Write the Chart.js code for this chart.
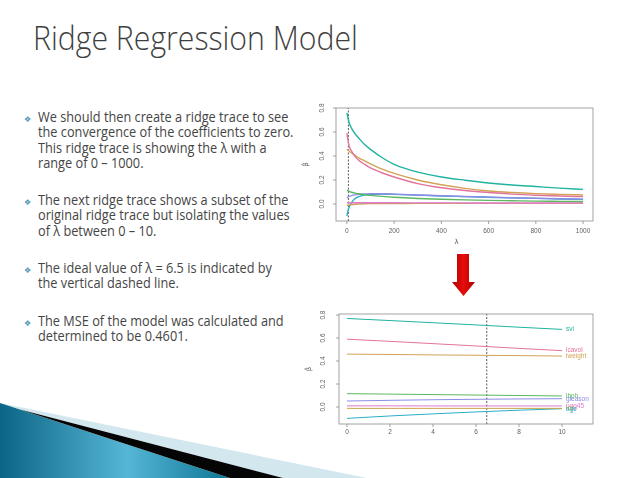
<!DOCTYPE html>
<html>
<head>
<meta charset="utf-8">
<script src="https://cdn.jsdelivr.net/npm/chart.js@4.4.1/dist/chart.umd.min.js"></script>
<style>
  html, body { margin: 0; padding: 0; background: #fff; }
  body { width: 638px; height: 478px; position: relative; overflow: hidden; font-family: "Open Sans", sans-serif; color: #454545; }
  h1 { position: absolute; left: 33px; top: 18px; margin: 0; font-weight: 300; font-size: 33px; line-height: 40px; color: #3f3f3f; white-space: nowrap; transform: scaleX(0.915); transform-origin: 0 0; }
  .bullet { position: absolute; left: 24px; font-size: 14px; line-height: 15.4px; white-space: nowrap; }
  .bullet p { margin: 0 0 0 14px; transform: scaleX(0.91); transform-origin: 0 0; }
  .bullet::before { content: '\2756'; position: absolute; left: 0; top: 3px; font-family: "DejaVu Sans"; font-size: 8px; color: #4f93b8; }
  .chart { position: absolute; }
  svg { position: absolute; left: 0; top: 0; }
</style>
</head>
<body>
<svg width="638" height="478">
  <defs>
    <linearGradient id="swoosh" x1="0" y1="0" x2="1" y2="0">
      <stop offset="0" stop-color="#0b6584"/>
      <stop offset="0.55" stop-color="#56b6d6"/>
      <stop offset="1" stop-color="#0d7696"/>
    </linearGradient>
    <linearGradient id="arrow" x1="0" y1="0" x2="1" y2="0">
      <stop offset="0" stop-color="#b00000"/>
      <stop offset="0.5" stop-color="#e80c0c"/>
      <stop offset="1" stop-color="#b30000"/>
    </linearGradient>
  </defs>
  <path d="M0,403 L367,478 L283,478 L20,409.5 Z" fill="#d3e7ef"/>
  <path d="M0,403 L230,478 L0,478 Z" fill="url(#swoosh)"/>
  <path d="M20,409.5 L283,478 L230,478 Z" fill="#050505"/>
  <path d="M457,254 L469,254 L469,282 L475,282 L463.5,296 L452,282 L457,282 Z" fill="url(#arrow)"/>
</svg>

<h1>Ridge Regression Model</h1>
<div class="bullet" style="top:109px"><p>We should then create a ridge trace to see<br>the convergence of the coefficients to zero.<br>This ridge trace is showing the λ with a<br>range of 0 – 1000.</p></div>
<div class="bullet" style="top:192px"><p>The next ridge trace shows a subset of the<br>original ridge trace but isolating the values<br>of λ between 0 – 10.</p></div>
<div class="bullet" style="top:260px"><p>The ideal value of λ = 6.5 is indicated by<br>the vertical dashed line.</p></div>
<div class="bullet" style="top:313px"><p>The MSE of the model was calculated and<br>determined to be 0.4601.</p></div>

<canvas id="wide" class="chart" width="300" height="160" style="left:300px;top:95px"></canvas>
<canvas id="narrow" class="chart" width="300" height="150" style="left:300px;top:300px"></canvas>

<script>
// ridge trace, lambda 0 - 1000
const lambdaWide = [0, 5, 10, 20, 35, 50, 75, 100, 150, 200, 300, 400, 500, 600, 700, 800, 900, 1000];
const sviWide = [0.76, 0.715, 0.675, 0.63, 0.585, 0.55, 0.495, 0.455, 0.385, 0.33, 0.265, 0.225, 0.198, 0.175, 0.158, 0.145, 0.132, 0.122];
const lcavolWide = [0.59, 0.53, 0.48, 0.44, 0.395, 0.365, 0.33, 0.3, 0.258, 0.225, 0.17, 0.135, 0.112, 0.095, 0.082, 0.073, 0.066, 0.061];
const lweightWide = [0.455, 0.45, 0.44, 0.425, 0.405, 0.385, 0.36, 0.335, 0.29, 0.255, 0.2, 0.16, 0.13, 0.108, 0.095, 0.086, 0.08, 0.075];
const lbphWide = [0.115, 0.11, 0.105, 0.098, 0.09, 0.085, 0.078, 0.072, 0.063, 0.056, 0.046, 0.039, 0.034, 0.03, 0.027, 0.024, 0.022, 0.02];
const gleasonWide = [0.052, 0.058, 0.063, 0.07, 0.076, 0.08, 0.083, 0.085, 0.085, 0.082, 0.075, 0.068, 0.062, 0.057, 0.052, 0.048, 0.043, 0.04];
const pgg45Wide = [0.01, 0.01, 0.01, 0.01, 0.01, 0.01, 0.01, 0.01, 0.01, 0.01, 0.009, 0.009, 0.009, 0.008, 0.008, 0.008, 0.008, 0.008];
const lcpWide = [-0.012, -0.01, -0.008, -0.005, -0.002, 0, 0.002, 0.003, 0.004, 0.004, 0.005, 0.005, 0.005, 0.005, 0.005, 0.005, 0.005, 0.005];
const ageWide = [-0.1, -0.055, -0.025, 0.012, 0.045, 0.062, 0.074, 0.079, 0.082, 0.08, 0.074, 0.067, 0.061, 0.056, 0.051, 0.047, 0.042, 0.038];

// ridge trace, lambda 0 - 10
const lambdaNarrow = [0, 2, 4, 6, 8, 10];
const sviNarrow = [0.77, 0.752, 0.733, 0.714, 0.694, 0.675];
const lcavolNarrow = [0.59, 0.571, 0.551, 0.531, 0.51, 0.49];
const lweightNarrow = [0.46, 0.457, 0.453, 0.45, 0.447, 0.443];
const lbphNarrow = [0.116, 0.112, 0.108, 0.104, 0.1, 0.096];
const gleasonNarrow = [0.052, 0.058, 0.063, 0.067, 0.07, 0.072];
const pgg45Narrow = [0.01, 0.01, 0.009, 0.009, 0.009, 0.009];
const lcpNarrow = [-0.012, -0.012, -0.012, -0.012, -0.012, -0.012];
const ageNarrow = [-0.099, -0.078, -0.06, -0.043, -0.028, -0.015];

const seriesNames = ['svi', 'lcavol', 'lweight', 'lbph', 'gleason', 'pgg45', 'lcp', 'age'];
const seriesColors = ['#1fb3a0', '#e2739c', '#d2a257', '#5cb860', '#8c8ce6', '#e07ad0', '#c9a44a', '#2aaec6'];
const bestLambda = 6.5;

const wideTicks = [0, 200, 400, 600, 800, 1000];
const wideTickLabels = ['0', '200', '400', '600', '800', '1000'];
const narrowTicks = [0, 2, 4, 6, 8, 10];
const narrowTickLabels = ['0', '2', '4', '6', '8', '10'];
const betaTicks = [0, 0.2, 0.4, 0.6, 0.8];
const betaTickLabels = ['0.0', '0.2', '0.4', '0.6', '0.8'];

// base-R look: box, outward ticks, rotated y labels
const rAxes = {
  id: 'rAxes',
  afterDraw(chart, args, opts) {
    const { ctx, chartArea: a, scales: { x, y } } = chart;
    ctx.save();
    ctx.strokeStyle = '#8c8c8c';
    ctx.lineWidth = 0.8;
    ctx.strokeRect(a.left, a.top, a.right - a.left, a.bottom - a.top);
    ctx.fillStyle = '#606060';
    ctx.font = '6.5px "Liberation Sans"';

    ctx.textAlign = 'center';
    ctx.textBaseline = 'middle';
    opts.xTicks.forEach((v, i) => {
      const px = x.getPixelForValue(v);
      ctx.beginPath();
      ctx.moveTo(px, a.bottom);
      ctx.lineTo(px, a.bottom + 3);
      ctx.stroke();
      ctx.fillText(opts.xLabels[i], px, a.bottom + opts.xLabelGap);
    });

    opts.yTicks.forEach((v, i) => {
      const py = y.getPixelForValue(v);
      ctx.beginPath();
      ctx.moveTo(a.left, py);
      ctx.lineTo(a.left - 3, py);
      ctx.stroke();
      ctx.save();
      ctx.translate(a.left - opts.yLabelGap, py);
      ctx.rotate(-Math.PI / 2);
      ctx.fillText(opts.yLabels[i], 0, 0);
      ctx.restore();
    });

    ctx.font = '7px "DejaVu Sans"';
    ctx.save();
    ctx.translate(a.left - 30, (a.top + a.bottom) / 2);
    ctx.rotate(-Math.PI / 2);
    ctx.fillText('\u03B2\u0302', 0, 0);
    ctx.restore();
    if (opts.xTitle) {
      ctx.fillText(opts.xTitle, (a.left + a.right) / 2 - 8, a.bottom + 21);
    }

    if (opts.endLabels) {
      ctx.font = '6.5px "Liberation Sans"';
      ctx.textAlign = 'left';
      seriesNames.forEach((name, i) => {
        const pts = chart.getDatasetMeta(i).data;
        const last = pts[pts.length - 1];
        ctx.fillStyle = seriesColors[i];
        ctx.fillText(name, last.x + 4, last.y);
      });
    }
    ctx.restore();
  },
};

const makeSets = (xs, cols, width, yMin, yMax) => {
  const sets = seriesNames.map((name, i) => ({
    label: name,
    data: xs.map((x, j) => ({ x, y: cols[i][j] })),
    borderColor: seriesColors[i],
    borderWidth: width,
    pointRadius: 0,
    cubicInterpolationMode: 'monotone',
    fill: false,
  }));
  sets.push({
    label: 'lambda',
    data: [{ x: bestLambda, y: yMin }, { x: bestLambda, y: yMax }],
    borderColor: '#333',
    borderWidth: 0.8,
    borderDash: [2, 1.5],
    pointRadius: 0,
    fill: false,
  });
  return sets;
};

const drawTrace = (id, options) => {
  const { xs, cols, width, xMin, xMax, yMin, yMax, padding, axes } = options;
  new Chart(document.getElementById(id), {
    type: 'line',
    data: { datasets: makeSets(xs, cols, width, yMin, yMax) },
    options: {
      responsive: false,
      animation: false,
      events: [],
      layout: { padding },
      plugins: { legend: { display: false }, tooltip: { enabled: false }, rAxes: axes },
      scales: {
        x: { type: 'linear', min: xMin, max: xMax, display: false },
        y: { type: 'linear', min: yMin, max: yMax, display: false },
      },
    },
    plugins: [rAxes],
  });
};

drawTrace('wide', {
  xs: lambdaWide,
  cols: [sviWide, lcavolWide, lweightWide, lbphWide, gleasonWide, pgg45Wide, lcpWide, ageWide],
  width: 1.4,
  xMin: -46,
  xMax: 1042,
  yMin: -0.142,
  yMax: 0.8,
  padding: { left: 36, top: 13, right: 7, bottom: 34 },
  axes: {
    xTicks: wideTicks, xLabels: wideTickLabels, xLabelGap: 10,
    yTicks: betaTicks, yLabels: betaTickLabels, yLabelGap: 14,
    xTitle: '\u03BB', endLabels: false,
  },
});

drawTrace('narrow', {
  xs: lambdaNarrow,
  cols: [sviNarrow, lcavolNarrow, lweightNarrow, lbphNarrow, gleasonNarrow, pgg45Narrow, lcpNarrow, ageNarrow],
  width: 1,
  xMin: -0.37,
  xMax: 11.44,
  yMin: -0.148,
  yMax: 0.809,
  padding: { left: 39, top: 14, right: 7, bottom: 26 },
  axes: {
    xTicks: narrowTicks, xLabels: narrowTickLabels, xLabelGap: 8,
    yTicks: betaTicks, yLabels: betaTickLabels, yLabelGap: 16,
    xTitle: null, endLabels: true,
  },
});
</script>
</body>
</html>
